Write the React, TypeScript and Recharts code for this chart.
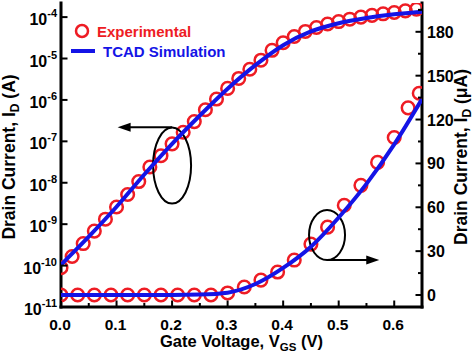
import React from 'react';
import {
  ComposedChart, Scatter, Line, XAxis, YAxis, Legend, ReferenceDot, ReferenceLine, Label,
} from 'recharts';

// measured points, log-scale transfer curve (V, A)
const logVgs = [0, 0.02, 0.04, 0.06, 0.08, 0.1, 0.12, 0.14, 0.16, 0.18, 0.2, 0.22, 0.24, 0.26, 0.28, 0.3, 0.32,
  0.34, 0.36, 0.38, 0.4, 0.42, 0.44, 0.46, 0.48, 0.5, 0.52, 0.54, 0.56, 0.58, 0.6, 0.62, 0.64];
const logId = [8.9e-11, 1.66e-10, 3.4e-10, 6.8e-10, 1.32e-9, 2.6e-9, 5.2e-9, 1.07e-8, 2.4e-8, 4.5e-8,
  8.7e-8, 1.66e-7, 3.0e-7, 5.8e-7, 1.05e-6, 1.9e-6, 3.3e-6, 5.5e-6, 9.1e-6, 1.58e-5,
  2.4e-5, 3.4e-5, 4.5e-5, 5.6e-5, 6.8e-5, 7.8e-5, 8.9e-5, 1.0e-4, 1.1e-4, 1.2e-4,
  1.29e-4, 1.41e-4, 1.55e-4];

// measured points, linear transfer curve (V, uA)
const linVgs = [0, 0.03, 0.06, 0.09, 0.12, 0.15, 0.18, 0.21, 0.24, 0.27, 0.3, 0.33, 0.36, 0.39, 0.42, 0.45,
  0.48, 0.51, 0.54, 0.57, 0.6, 0.625, 0.645];
const linId = [0, 0, 0, 0, 0, 0, 0, 0, 0, 0, 1.4, 5.5, 10.2, 15.7, 23.9, 34.8, 46.4, 61.4, 75, 90.7, 107.7, 128, 138];

// TCAD curves
const simVgs = [0, 0.05, 0.1, 0.15, 0.2, 0.25, 0.3, 0.35, 0.4, 0.45, 0.5, 0.55, 0.6, 0.65];
const simLogId = [1.05e-10, 5.0e-10, 2.63e-9, 1.58e-8, 8.7e-8, 4.2e-7, 1.86e-6, 6.9e-6, 2.1e-5, 4.5e-5,
  7.1e-5, 9.5e-5, 1.17e-4, 1.35e-4];
const simLinId = [0, 0, 0, 0, 0, 0.3, 1.6, 7.5, 18.5, 33, 53, 76, 103, 134];

const xMajor = [0, 0.1, 0.2, 0.3, 0.4, 0.5, 0.6];
const xMinor = [0.05, 0.15, 0.25, 0.35, 0.45, 0.55, 0.65];
const logTicks = [1e-11, 1e-10, 1e-9, 1e-8, 1e-7, 1e-6, 1e-5, 1e-4];
const linMajor = [0, 30, 60, 90, 120, 150, 180];
const linMinor = [15, 45, 75, 105, 135, 165, 195];

// annotation anchors (data units)
const leftOval = { vgs: 0.2, id: 2.6e-8 };
const leftArrow = { from: 0.2, to: 0.102, id: 2.2e-7 };
const rightOval = { vgs: 0.479, id: 41 };
const rightArrow = { from: 0.479, to: 0.573, id: 24 };

const RED = '#ee1c24';
const BLUE = '#1414e6';
const FONT = '"Liberation Sans", Arial, sans-serif';

const rows = (v: number[], i: number[]) => v.map((x, k) => ({ vgs: x, id: i[k] }));
const isIn = (arr: number[], v: number) => arr.some((t) => Math.abs(t - v) < 1e-9);

const BottomTick = (p: any) => {
  const major = isIn(xMajor, p.payload.value);
  return (
    <g>
      <line x1={p.x} y1={p.y} x2={p.x} y2={p.y - (major ? 6.5 : 4)} stroke="#000" strokeWidth={2} />
      {major && (
        <text x={p.x - 1} y={p.y + 23} textAnchor="middle" fontFamily={FONT} fontWeight="bold" fontSize={15.5} fill="#000">
          {p.payload.value.toFixed(1)}
        </text>
      )}
    </g>
  );
};

const TopTick = (p: any) => {
  const major = isIn(xMajor, p.payload.value);
  return <line x1={p.x} y1={p.y} x2={p.x} y2={p.y + (major ? 6.5 : 4)} stroke="#000" strokeWidth={2} />;
};

const LogTick = (p: any) => {
  const exp = Math.round(Math.log10(p.payload.value));
  return (
    <g>
      <line x1={p.x} y1={p.y} x2={p.x + 6.5} y2={p.y} stroke="#000" strokeWidth={2} />
      <text x={p.x - 4} y={p.y + 8} textAnchor="end" fontFamily={FONT} fontWeight="bold" fontSize={16} fill="#000">
        <tspan>10</tspan>
        <tspan dy={-8} fontSize={11}>{String(exp)}</tspan>
      </text>
    </g>
  );
};

const LinTick = (p: any) => {
  const major = isIn(linMajor, p.payload.value);
  return (
    <g>
      <line x1={p.x} y1={p.y} x2={p.x - (major ? 6.5 : 4)} y2={p.y} stroke="#000" strokeWidth={2} />
      {major && (
        <text x={p.x + 5} y={p.y + 6} textAnchor="start" fontFamily={FONT} fontWeight="bold" fontSize={16} fill="#000">
          {p.payload.value}
        </text>
      )}
    </g>
  );
};

const YTitle = ({ viewBox, x, unit }: any) => {
  const cy = viewBox.y + viewBox.height / 2 + 2;
  return (
    <text transform={`rotate(-90 ${x} ${cy})`} x={x} y={cy} dy="0.34em" textAnchor="middle"
      fontFamily={FONT} fontWeight="bold" fontSize={17.5} fill="#000">
      Drain Current, I<tspan dy={4} fontSize={12}>D</tspan><tspan dy={-4}>{` (${unit})`}</tspan>
    </text>
  );
};

const XTitle = ({ viewBox }: any) => (
  <text x={viewBox.x + viewBox.width / 2} y={viewBox.y + 40} textAnchor="middle"
    fontFamily={FONT} fontWeight="bold" fontSize={16.5} fill="#000">
    Gate Voltage, V<tspan dy={4} fontSize={11.5}>GS</tspan><tspan dy={-4}> (V)</tspan>
  </text>
);

const LegendBox = () => (
  <svg width={200} height={50} style={{ display: 'block' }}>
    <circle cx={17} cy={12} r={6} fill="none" stroke={RED} strokeWidth={2.5} />
    <text x={32} y={18} fill={RED} fontFamily={FONT} fontWeight="bold" fontSize={15}>Experimental</text>
    <line x1={6} y1={32} x2={30} y2={32} stroke={BLUE} strokeWidth={4} />
    <text x={38} y={38} fill={BLUE} fontFamily={FONT} fontWeight="bold" fontSize={15}>TCAD Simulation</text>
  </svg>
);

const arrowShape = (p: any) => {
  const dir = p.x2 > p.x1 ? 1 : -1;
  return (
    <g>
      <line x1={p.x1} y1={p.y1} x2={p.x2 - dir * 10} y2={p.y2} stroke="#000" strokeWidth={2} />
      <polygon points={`${p.x2},${p.y2} ${p.x2 - dir * 13},${p.y2 - 4.5} ${p.x2 - dir * 13},${p.y2 + 4.5}`} fill="#000" />
    </g>
  );
};

const ovalShape = (rx: number, ry: number) => (p: any) => (
  <ellipse cx={p.cx} cy={p.cy} rx={rx} ry={ry} fill="none" stroke="#000" strokeWidth={2} />
);

const circleShape = (p: any) => (
  <circle cx={p.cx} cy={p.cy} r={6.3} fill="none" stroke={RED} strokeWidth={2.5} />
);

const frame = { stroke: '#000', strokeWidth: 3, strokeLinecap: 'square' as const };

export default function App() {
  return (
    <div style={{ position: 'absolute', left: 0, top: 0, background: '#fff' }}>
      <ComposedChart width={474} height={352} margin={{ top: 3, right: 0, bottom: 0, left: 0 }}>
        <XAxis xAxisId="b" type="number" dataKey="vgs" domain={[0, 0.65]} allowDataOverflow
          ticks={[...xMajor, ...xMinor]} interval={0} tickSize={0} tickMargin={0} tickLine={false}
          tick={BottomTick} axisLine={frame} height={45}>
          <Label content={(p: any) => <XTitle {...p} />} />
        </XAxis>
        <XAxis xAxisId="t" orientation="top" type="number" dataKey="vgs" domain={[0, 0.65]} allowDataOverflow
          ticks={[...xMajor, ...xMinor]} interval={0} tickSize={0} tickMargin={0} tickLine={false}
          tick={TopTick} axisLine={frame} height={0} />
        <YAxis yAxisId="log" type="number" scale="log" domain={[1e-11, 2.19e-4]} allowDataOverflow
          ticks={logTicks} interval={0} tickSize={0} tickMargin={0} tickLine={false}
          tick={LogTick} axisLine={frame} width={61}>
          <Label content={(p: any) => <YTitle {...p} x={9} unit="A" />} />
        </YAxis>
        <YAxis yAxisId="lin" orientation="right" type="number" domain={[-8.2, 199.7]} allowDataOverflow
          ticks={[...linMajor, ...linMinor]} interval={0} tickSize={0} tickMargin={0} tickLine={false}
          tick={LinTick} axisLine={frame} width={52}>
          <Label content={(p: any) => <YTitle {...p} x={461} unit="μA" />} />
        </YAxis>

        <Scatter xAxisId="b" yAxisId="log" data={rows(logVgs, logId)} dataKey="id" shape={circleShape}
          isAnimationActive={false} />
        <Scatter xAxisId="b" yAxisId="lin" data={rows(linVgs, linId)} dataKey="id" shape={circleShape}
          isAnimationActive={false} />
        <Line xAxisId="b" yAxisId="log" data={rows(simVgs, simLogId)} dataKey="id" type="monotone"
          stroke={BLUE} strokeWidth={4} dot={false} activeDot={false} isAnimationActive={false} zIndex={700} />
        <Line xAxisId="b" yAxisId="lin" data={rows(simVgs, simLinId)} dataKey="id" type="monotone"
          stroke={BLUE} strokeWidth={4} dot={false} activeDot={false} isAnimationActive={false} zIndex={700} />

        <ReferenceDot xAxisId="b" yAxisId="log" x={leftOval.vgs} y={leftOval.id} shape={ovalShape(19, 38)} />
        <ReferenceLine xAxisId="b" yAxisId="log"
          segment={[{ x: leftArrow.from, y: leftArrow.id }, { x: leftArrow.to, y: leftArrow.id }]} shape={arrowShape} />
        <ReferenceDot xAxisId="b" yAxisId="lin" x={rightOval.vgs} y={rightOval.id} shape={ovalShape(18, 25)} />
        <ReferenceLine xAxisId="b" yAxisId="lin"
          segment={[{ x: rightArrow.from, y: rightArrow.id }, { x: rightArrow.to, y: rightArrow.id }]} shape={arrowShape} />

        <Legend layout="vertical" align="center" verticalAlign="middle" content={LegendBox}
          wrapperStyle={{ left: 65, top: 19, width: 200, height: 50 }} />
      </ComposedChart>
    </div>
  );
}
